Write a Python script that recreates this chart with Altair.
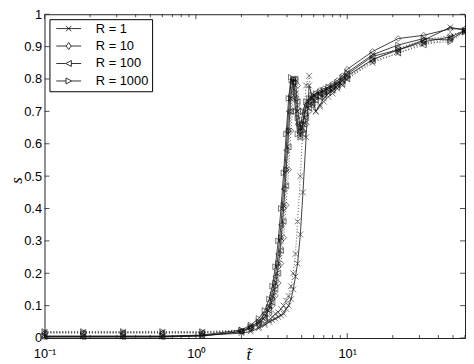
import altair as alt
import pandas as pd

# time grid (t~)
T = [0.1, 0.18, 0.33, 0.6, 1.1, 2.0, 2.3, 2.6, 2.85, 3.05, 3.2, 3.35, 3.5, 3.65,
     3.8, 3.95, 4.1, 4.25, 4.4, 4.55, 4.7, 4.9, 5.1, 5.35, 5.6, 5.9, 6.2, 6.6,
     7.0, 7.5, 8.0, 8.6, 9.3, 10.0, 14.7, 21.7, 32.0, 48.0, 60.0]

LABELS = ["R = 1", "R = 10", "R = 100", "R = 1000"]

# solid curves
S_R1 = [0.005, 0.005, 0.005, 0.005, 0.008, 0.015, 0.02, 0.03, 0.04, 0.05, 0.055, 0.06, 0.065, 0.07,
        0.075, 0.09, 0.10, 0.12, 0.15, 0.19, 0.23, 0.32, 0.45, 0.62, 0.78, 0.74, 0.70, 0.72,
        0.74, 0.755, 0.765, 0.78, 0.795, 0.81, 0.86, 0.89, 0.92, 0.96, 0.95]
S_R10 = [0.003, 0.003, 0.003, 0.003, 0.006, 0.02, 0.03, 0.045, 0.065, 0.09, 0.12, 0.16, 0.22, 0.30,
         0.40, 0.52, 0.64, 0.75, 0.80, 0.79, 0.71, 0.64, 0.66, 0.71, 0.73, 0.745, 0.755, 0.765,
         0.77, 0.775, 0.785, 0.795, 0.81, 0.83, 0.885, 0.925, 0.935, 0.955, 0.955]
S_R100 = [0.004, 0.004, 0.004, 0.004, 0.007, 0.02, 0.035, 0.05, 0.075, 0.10, 0.14, 0.19, 0.26, 0.35,
          0.46, 0.58, 0.70, 0.79, 0.80, 0.74, 0.66, 0.62, 0.67, 0.72, 0.735, 0.745, 0.75, 0.755,
          0.76, 0.77, 0.775, 0.785, 0.80, 0.815, 0.87, 0.89, 0.915, 0.93, 0.95]
S_R1000 = [0.006, 0.006, 0.006, 0.006, 0.009, 0.025, 0.04, 0.06, 0.085, 0.12, 0.16, 0.22, 0.30, 0.40,
           0.51, 0.63, 0.74, 0.805, 0.78, 0.70, 0.63, 0.65, 0.70, 0.73, 0.74, 0.75, 0.755, 0.76,
           0.765, 0.775, 0.78, 0.79, 0.805, 0.82, 0.875, 0.905, 0.925, 0.92, 0.95]

# dotted curves
D_R1 = [0.018, 0.018, 0.018, 0.018, 0.018, 0.02, 0.025, 0.035, 0.045, 0.055, 0.065, 0.075, 0.08, 0.09,
        0.10, 0.115, 0.13, 0.16, 0.20, 0.26, 0.36, 0.50, 0.66, 0.78, 0.81, 0.72, 0.70, 0.715,
        0.73, 0.745, 0.755, 0.77, 0.78, 0.80, 0.85, 0.88, 0.91, 0.93, 0.945]
D_R10 = [0.015, 0.015, 0.015, 0.015, 0.015, 0.02, 0.03, 0.04, 0.055, 0.075, 0.10, 0.13, 0.17, 0.23,
         0.31, 0.41, 0.52, 0.64, 0.74, 0.80, 0.78, 0.70, 0.64, 0.66, 0.70, 0.72, 0.735, 0.745,
         0.755, 0.765, 0.77, 0.78, 0.79, 0.805, 0.86, 0.895, 0.92, 0.935, 0.95]
D_R100 = [0.017, 0.017, 0.017, 0.017, 0.017, 0.022, 0.032, 0.045, 0.06, 0.085, 0.11, 0.15, 0.20, 0.27,
          0.36, 0.47, 0.59, 0.70, 0.79, 0.80, 0.73, 0.66, 0.63, 0.68, 0.71, 0.725, 0.735, 0.745,
          0.75, 0.76, 0.765, 0.775, 0.785, 0.80, 0.855, 0.88, 0.905, 0.925, 0.945]
D_R1000 = [0.02, 0.02, 0.02, 0.02, 0.02, 0.024, 0.035, 0.05, 0.068, 0.095, 0.125, 0.17, 0.23, 0.31,
           0.41, 0.52, 0.64, 0.74, 0.80, 0.76, 0.68, 0.62, 0.64, 0.69, 0.72, 0.73, 0.74, 0.745,
           0.755, 0.76, 0.77, 0.78, 0.79, 0.805, 0.86, 0.89, 0.91, 0.915, 0.945]

X_MAJOR = [0.1, 1, 10]
X_MINOR = [0.2, 0.3, 0.4, 0.5, 0.6, 0.7, 0.8, 0.9, 2, 3, 4, 5, 6, 7, 8, 9, 20, 30, 40, 50, 60]
Y_TICKS = [0, 0.1, 0.2, 0.3, 0.4, 0.5, 0.6, 0.7, 0.8, 0.9, 1.0]

SOLID = [S_R1, S_R10, S_R100, S_R1000]
DOTTED = [D_R1, D_R10, D_R100, D_R1000]

rows = []
for lab, sv, dv in zip(LABELS, SOLID, DOTTED):
    assert len(sv) == len(T) and len(dv) == len(T)
    for t, s in zip(T, sv):
        rows.append({"t": t, "s": s, "R": lab, "style": "solid", "series": lab + " solid"})
    for t, s in zip(T, dv):
        rows.append({"t": t, "s": s, "R": lab, "style": "dotted", "series": lab + " dotted"})
df = pd.DataFrame(rows)

W, H = 426, 328
XDOM = [0.1, 60]
xscale = alt.Scale(type="log", domain=XDOM, nice=False)
yscale = alt.Scale(domain=[0, 1], nice=False, zero=False)

XPATH = "M-1,-1L1,1M-1,1L1,-1"
MARKERS = [XPATH, "diamond", "triangle-left", "triangle-right"]
LEG = [
    "M-2.1,0L2.1,0M-0.45,-0.45L0.45,0.45M-0.45,0.45L0.45,-0.45",
    "M-2.1,0L-0.42,0M0.42,0L2.1,0M0,-0.6L0.42,0L0,0.6L-0.42,0Z",
    "M-2.1,0L-0.5,0M0.45,0L2.1,0M-0.5,0L0.45,-0.5L0.45,0.5Z",
    "M-2.1,0L-0.45,0M0.5,0L2.1,0M0.5,0L-0.45,-0.5L-0.45,0.5Z",
]

LABEL_FONT = "Liberation Sans"
TITLE_FONT = "Liberation Serif"

X_AXIS = alt.Axis(values=X_MAJOR, title="t\u0303", grid=False, ticks=False, domain=False,
                  labelExpr="datum.value < 0.5 ? '10\u207b\u00b9' : (datum.value < 5 ? '10\u2070' : '10\u00b9')",
                  labelPadding=10, labelFlush=False, labelOverlap=False,
                  labelFont=LABEL_FONT, labelFontSize=13, labelColor="black",
                  titleFont=TITLE_FONT, titleFontSize=17, titleFontStyle="italic",
                  titleFontWeight="normal", titleColor="black",
                  titleX=204, titleY=22, titleBaseline="alphabetic", titleAnchor="start")
Y_AXIS = alt.Axis(values=Y_TICKS, format="~g", title="s", grid=False, ticks=False,
                  domain=False, labelPadding=3, labelOverlap=False, labelFont=LABEL_FONT,
                  labelFontSize=13, labelColor="black",
                  titleFont=TITLE_FONT, titleFontSize=17, titleFontStyle="italic",
                  titleFontWeight="normal", titleColor="black",
                  titleX=-28, titleY=H / 2 + 4, titleAngle=270,
                  titleBaseline="middle", titleAlign="center")

xq = alt.X("t:Q", scale=xscale, axis=X_AXIS)
yq = alt.Y("s:Q", scale=yscale, axis=Y_AXIS)

base = alt.Chart(df)

solid_lines = base.transform_filter(alt.datum.style == "solid").mark_line(
    color="#111", strokeWidth=0.8).encode(x=xq, y=yq, detail="series:N")
dotted_lines = base.transform_filter(alt.datum.style == "dotted").mark_line(
    color="#333", strokeWidth=0.8, strokeDash=[1, 2]).encode(x=xq, y=yq, detail="series:N")

points = base.mark_point(filled=False, color="#111", size=34, strokeWidth=0.8).encode(
    x=xq, y=yq,
    shape=alt.Shape("R:N", scale=alt.Scale(domain=LABELS, range=MARKERS), legend=None))

legend_layer = base.transform_filter(alt.datum.style == "solid").mark_point(
    filled=False, color="black", size=0).encode(
    x=xq, y=yq,
    shape=alt.Shape("R:N", scale=alt.Scale(domain=LABELS, range=LEG),
                    legend=alt.Legend(title=None, orient="none", legendX=5, legendY=5,
                                      symbolSize=144, symbolStrokeWidth=0.8,
                                      symbolStrokeColor="black", symbolFillColor="transparent",
                                      symbolOpacity=1, symbolOffset=10, labelOffset=21,
                                      padding=3, rowPadding=3.7, strokeColor="black",
                                      fillColor="white", labelFont=LABEL_FONT,
                                      labelFontSize=13, labelColor="black")))

xmaj = pd.DataFrame({"t": X_MAJOR})
xmin = pd.DataFrame({"t": X_MINOR})
yt = pd.DataFrame({"s": Y_TICKS})

def xticks(data, length):
    b = alt.Chart(data).mark_rule(color="#222", strokeWidth=0.8)
    bottom = b.encode(x=xq, y=alt.value(H), y2=alt.value(H - length))
    top = b.encode(x=xq, y=alt.value(0), y2=alt.value(length))
    return [bottom, top]

yb = alt.Chart(yt).mark_rule(color="#222", strokeWidth=0.8)
yleft = yb.encode(y=yq, x=alt.value(0), x2=alt.value(5))
yright = yb.encode(y=yq, x=alt.value(W), x2=alt.value(W - 5))

layers = [solid_lines] + xticks(xmaj, 5) + xticks(xmin, 3) + [yleft, yright, dotted_lines, points, legend_layer]

chart = alt.layer(*layers).resolve_scale(shape="independent").properties(
    width=W, height=H,
    background="white",
    autosize=alt.AutoSizeParams(type="none"),
    padding={"left": 37, "top": 4, "right": 1, "bottom": 24},
).configure_view(stroke="#222", strokeWidth=1)

chart.save("out.html", embed_options={"renderer": "svg", "actions": False})
